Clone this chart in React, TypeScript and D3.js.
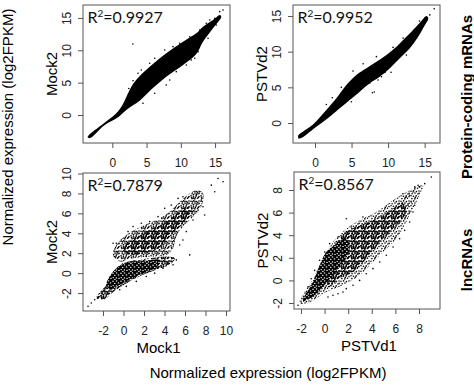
import React, { useEffect, useRef } from "react";
import * as d3 from "d3";

type Pt = [number, number];

const mockCodingX = [-4.28, 17.18];
const mockCodingY = [-4.33, 17.0];
const pstvdCodingX = [-3.01, 17.1];
const pstvdCodingY = [-2.8, 16.54];
const mockLncX = [-3.95, 10.39];
const mockLncY = [-3.8, 10.05];
const pstvdLncX = [-2.59, 9.78];
const pstvdLncY = [-2.53, 9.59];

const codingTicks = [0, 5, 10, 15];
const mockLncTicks = [-2, 0, 2, 4, 6, 8, 10];
const pstvdLncTicks = [-2, 0, 2, 4, 6, 8];

const r2Labels = ["0.9927", "0.9952", "0.7879", "0.8567"];

// Mock1 vs Mock2, protein-coding: outline of the dense band + stray points
const mockCodingUpper: Pt[] = [[-3.55, -3.35], [-1.36, -1.4], [0.58, 0.26], [1.56, 1.7], [2.29, 3.35], [3.02, 4.79], [4.0, 6.03], [5.46, 7.47], [7.88, 9.54], [10.32, 11.33], [12.26, 12.63], [13.24, 13.65], [14.7, 14.68], [15.68, 15.46]];
const mockCodingLower: Pt[] = [[-3.3, -3.6], [-1.1, -1.55], [0.83, -0.36], [2.04, 0.77], [3.02, 1.5], [4.0, 2.21], [5.46, 3.71], [7.88, 5.92], [10.32, 7.73], [12.26, 9.43], [13.24, 11.33], [14.7, 13.4], [15.9, 15.2]];
const mockCodingPoints: Pt[] = [[3.0, 10.97], [11.53, 8.5], [10.32, 7.99], [9.84, 7.73], [12.03, 8.76], [15.68, 15.97], [16.16, 16.23], [14.95, 14.94], [14.22, 14.68], [2.4, 4.1], [3.02, 5.3], [3.75, 6.44], [4.23, 6.96], [5.46, 8.0], [6.19, 8.76], [7.65, 10.05], [8.86, 10.56], [9.84, 11.08], [11.3, 12.1], [12.76, 13.14], [13.72, 14.17], [4.48, 1.81], [6.19, 3.35], [7.88, 4.64], [8.38, 5.41], [9.34, 6.7], [10.8, 7.73], [12.51, 9.79], [13.97, 11.85], [15.18, 13.91], [-3.5, -3.4], [-3.0, -2.9], [-2.5, -2.4]];

// PSTVd1 vs PSTVd2, protein-coding
const pstvdCodingUpper: Pt[] = [[-2.33, -1.82], [-0.27, -0.2], [1.55, 1.82], [2.92, 3.46], [4.29, 5.33], [5.66, 6.73], [7.03, 7.67], [8.4, 8.6], [9.77, 9.54], [11.14, 10.7], [12.5, 12.1], [13.2, 12.8], [14.3, 14.0], [15.25, 15.0]];
const pstvdCodingLower: Pt[] = [[-2.1, -2.15], [0.18, -0.51], [2.01, 0.89], [3.38, 2.06], [4.75, 3.23], [6.12, 4.39], [7.49, 5.57], [8.86, 6.49], [10.23, 7.67], [11.6, 9.07], [12.97, 10.47], [14.0, 11.9], [14.9, 13.5], [15.5, 14.7]];
const pstvdCodingPoints: Pt[] = [[7.85, 4.25], [8.63, 6.03], [9.09, 6.49], [9.5, 7.1], [10.4, 7.1], [10.2, 7.8], [7.5, 5.6], [4.98, 2.99], [2.37, 3.55], [15.7, 15.15], [16.3, 16.0], [14.3, 14.3], [15.03, 14.68], [1.55, 2.6], [3.6, 5.0], [5.2, 7.3], [6.58, 8.3], [8.4, 9.3], [10.68, 10.6], [12.05, 11.9], [12.5, 9.54], [13.88, 11.88], [8.1, 4.35], [9.6, 7.15], [-2.2, -2.1], [-1.8, -1.7]];

// Mock1 vs Mock2, lncRNAs: two lobes, their dense cores and the sparse points
const mockLncUpperLobe: Pt[] = [[-1.02, 1.83], [-0.7, 2.83], [0.28, 3.83], [1.74, 4.67], [3.2, 5.33], [4.5, 6.17], [5.48, 7.17], [6.46, 8.0], [7.27, 8.33], [7.76, 8.0], [7.59, 6.67], [6.78, 5.67], [5.8, 4.67], [5.15, 3.67], [4.83, 2.5], [4.18, 1.83], [2.56, 1.67], [0.93, 1.5], [-0.37, 1.17]];
const mockLncLowerFan: Pt[] = [[-2.65, -2.5], [-1.67, -1.17], [-1.02, 0], [-0.37, 0.83], [0.93, 1.27], [2.56, 1.5], [4.18, 1.67], [5.0, 1.5], [4.5, 0.83], [3.2, 0.33], [1.9, -0.17], [0.6, -0.83], [-0.7, -1.67], [-2.0, -2.67]];
const mockLncFanCore: Pt[] = [[-1.67, -1.17], [-0.86, 0.33], [0.28, 1.0], [1.9, 1.17], [3.53, 1.33], [3.2, 0.5], [1.58, -0.17], [-0.05, -1.0], [-1.35, -1.67]];
const mockLncLobeCore: Pt[] = [[-0.05, 2.5], [1.25, 3.67], [3.2, 4.67], [4.83, 5.67], [6.13, 6.67], [6.78, 6.33], [5.8, 5.0], [4.5, 3.67], [3.53, 2.5], [1.9, 2.0], [0.6, 1.83]];
const mockLncPoints: Pt[] = [[9.22, 9.5], [9.71, 9.17], [8.57, 8.83], [8.9, 8.17], [7.43, 8.17], [7.1, 7.83], [6.78, 7.5], [7.59, 7.33], [7.76, 6.67], [7.27, 6.33], [7.92, 5.83], [6.78, 5.33], [6.46, 1.83], [5.8, 3.33], [5.48, 2.83], [6.13, 4.17], [-1.02, 3.0], [-0.7, 3.0], [-0.86, 1.67], [-0.54, 2.17], [-0.21, 3.33], [0.44, 4.17], [0.93, 4.67], [1.74, 5.0], [2.56, 5.17], [3.37, 5.67], [4.02, 6.5], [4.66, 6.83], [5.32, 7.5], [5.8, 7.67], [-3.46, -3.33], [-3.14, -3.0], [-2.81, -2.67], [-2.49, -2.4], [-2.17, -2.0], [-1.93, -1.73], [-1.67, -1.5], [-1.35, -1.33], [-0.37, -1.67], [0.28, -1.33], [1.25, -0.83], [2.23, -0.33], [3.04, 0], [3.85, 0.5], [4.34, 1.0], [5.15, 1.33], [4.83, 0.83], [3.53, 2.33], [2.23, 1.67]];

// PSTVd1 vs PSTVd2, lncRNAs
const pstvdLncOuter: Pt[] = [[-2.11, -1.91], [-0.98, 0.15], [-0.14, 1.92], [0.71, 3.4], [1.84, 4.58], [2.97, 5.32], [4.38, 6.05], [5.8, 7.09], [7.21, 7.97], [8.34, 8.42], [8.06, 7.53], [7.49, 6.35], [6.92, 5.17], [6.08, 3.69], [4.95, 2.51], [4.1, 1.63], [2.97, 0.45], [1.56, -0.43], [0.14, -1.03], [-1.55, -2.06]];
const pstvdLncMid: Pt[] = [[0.99, 3.25], [1.84, 4.3], [2.97, 4.88], [4.38, 5.46], [5.8, 6.35], [6.64, 6.94], [6.92, 6.05], [5.8, 4.58], [4.67, 3.4], [3.53, 1.92], [2.41, 0.74], [1.28, 0.2], [0.3, -0.6]];
const pstvdLncCore: Pt[] = [[-1.83, -1.76], [-0.98, -0.14], [-0.42, 1.34], [0.14, 2.51], [0.99, 3.25], [1.84, 3.69], [2.13, 2.81], [1.56, 1.63], [0.71, 0.45], [-0.14, -0.58], [-0.98, -1.47]];
const pstvdLncPoints: Pt[] = [[9.04, 9.15], [8.48, 8.56], [8.06, 8.27], [7.64, 8.27], [7.92, 8.42], [7.21, 7.53], [7.49, 7.82], [6.92, 7.38], [6.64, 7.67], [7.35, 6.94], [7.64, 6.65], [7.07, 6.65], [7.21, 6.05], [7.49, 6.05], [6.79, 5.76], [6.36, 5.17], [1.84, 5.46], [3.25, 5.61], [2.26, 4.73], [1.14, 3.84], [0.43, 3.25], [0.01, 2.51], [-0.42, 1.78], [-0.84, 0.89], [-1.13, 0.15], [-1.41, -0.58], [-2.25, -2.2], [-1.97, -2.0], [-1.69, -1.76], [-1.41, -1.56], [-1.13, -1.38], [0.29, -1.47], [0.71, -1.32], [1.14, -1.18], [1.56, -1.03], [1.84, -0.73], [2.41, -0.43], [2.97, 0], [3.53, 0.59], [4.1, 1.04], [4.67, 1.63], [5.23, 2.22], [5.8, 2.96], [6.36, 3.69], [6.79, 4.43], [7.21, 5.17]];

const panels = [
  {
    frame: { left: 83, right: 230, top: 5, bottom: 143 },
    xDomain: mockCodingX, yDomain: mockCodingY, ticks: codingTicks,
    xTitle: null, yTitle: "Mock2", r2: r2Labels[0],
    regions: [{ ring: [...mockCodingUpper, ...mockCodingLower.slice().reverse()], fill: "#000" }],
    points: mockCodingPoints,
  },
  {
    frame: { left: 293, right: 440, top: 5, bottom: 143 },
    xDomain: pstvdCodingX, yDomain: pstvdCodingY, ticks: codingTicks,
    xTitle: null, yTitle: "PSTVd2", r2: r2Labels[1],
    regions: [{ ring: [...pstvdCodingUpper, ...pstvdCodingLower.slice().reverse()], fill: "#000" }],
    points: pstvdCodingPoints,
  },
  {
    frame: { left: 83, right: 230, top: 173, bottom: 311 },
    xDomain: mockLncX, yDomain: mockLncY, ticks: mockLncTicks,
    xTitle: "Mock1", yTitle: "Mock2", r2: r2Labels[2],
    regions: [
      { ring: mockLncUpperLobe, fill: "url(#dots-mid)" },
      { ring: mockLncLowerFan, fill: "url(#dots-midplus)" },
      { ring: mockLncLobeCore, fill: "url(#dots-midplus)" },
      { ring: mockLncFanCore, fill: "url(#dots-heavy)" },
    ],
    points: mockLncPoints,
  },
  {
    frame: { left: 294, right: 440, top: 172, bottom: 309 },
    xDomain: pstvdLncX, yDomain: pstvdLncY, ticks: pstvdLncTicks,
    xTitle: "PSTVd1", yTitle: "PSTVd2", r2: r2Labels[3],
    regions: [
      { ring: pstvdLncOuter, fill: "url(#dots-light)" },
      { ring: pstvdLncMid, fill: "url(#dots-midplus)" },
      { ring: pstvdLncCore, fill: "url(#dots-heavy)" },
    ],
    points: pstvdLncPoints,
  },
];

const AXIS_FONT = "'Liberation Sans', Arial, sans-serif";
const R2_FONT = "Lato, 'Noto Sans', sans-serif";

// speckle tiles used to shade the sparser lncRNA clouds (style only)
const lightDots = [[1.0, 1.2], [3.6, 0.9], [6.4, 1.6], [9.0, 1.0], [2.1, 3.7], [5.0, 3.1], [7.9, 4.0], [1.0, 5.8], [3.4, 6.2], [6.2, 5.9], [9.0, 6.6], [1.9, 8.6], [4.8, 8.9], [7.5, 8.2], [9.1, 3.4], [5.3, 7.4]];
const midExtra = [[2.4, 1.9], [4.9, 1.2], [7.6, 2.2], [3.6, 4.6], [6.4, 4.1], [1.5, 7.2], [8.3, 7.5], [3.3, 8.0]];
const heavySpecks = [[1.0, 1.3], [4.6, 0.9], [2.8, 3.4], [6.5, 2.9], [1.2, 5.6], [4.4, 5.9], [7.0, 6.4], [2.9, 7.4]];

const speckles = [
  { id: "dots-light", size: 10, r: 0.78, ink: "#000", base: null, dots: lightDots },
  { id: "dots-mid", size: 10, r: 0.82, ink: "#000", base: null, dots: [...lightDots, ...midExtra] },
  { id: "dots-midplus", size: 10, r: 0.95, ink: "#000", base: null, dots: [...lightDots, ...midExtra] },
  { id: "dots-heavy", size: 8, r: 0.72, ink: "#fff", base: "#000", dots: heavySpecks },
];

const App = () => {
  const svgRef = useRef<SVGSVGElement>(null);

  useEffect(() => {
    const svg = d3.select(svgRef.current);
    svg.selectAll("*").remove();

    const defs = svg.append("defs");
    speckles.forEach((s) => {
      const pat = defs.append("pattern")
        .attr("id", s.id)
        .attr("patternUnits", "userSpaceOnUse")
        .attr("width", s.size)
        .attr("height", s.size);
      if (s.base) pat.append("rect").attr("width", s.size).attr("height", s.size).attr("fill", s.base);
      s.dots.forEach(([cx, cy]) =>
        pat.append("circle").attr("cx", cx).attr("cy", cy).attr("r", s.r).attr("fill", s.ink)
      );
    });

    const fmt = (d: any) => String(d);

    panels.forEach((p, i) => {
      const { left, right, top, bottom } = p.frame;
      const x = d3.scaleLinear().domain(p.xDomain).range([left, right]);
      const y = d3.scaleLinear().domain(p.yDomain).range([bottom, top]);

      defs.append("clipPath").attr("id", `clip${i}`)
        .append("rect").attr("x", left).attr("y", top).attr("width", right - left).attr("height", bottom - top);

      const g = svg.append("g");
      const plot = g.append("g").attr("clip-path", `url(#clip${i})`);

      const ring = d3.line<Pt>()
        .x((d) => x(d[0]))
        .y((d) => y(d[1]))
        .curve(d3.curveCatmullRomClosed.alpha(0.5));

      p.regions.forEach((r) => {
        plot.append("path").attr("d", ring(r.ring)).attr("fill", r.fill);
      });

      plot.selectAll("circle")
        .data(p.points)
        .join("circle")
        .attr("cx", (d) => x(d[0]))
        .attr("cy", (d) => y(d[1]))
        .attr("r", 0.8)
        .attr("fill", "#000");

      // box
      g.append("rect")
        .attr("x", left).attr("y", top)
        .attr("width", right - left).attr("height", bottom - top)
        .attr("fill", "none").attr("stroke", "#555").attr("stroke-width", 1);

      // x axis
      g.append("g")
        .attr("transform", `translate(0,${bottom})`)
        .call(d3.axisBottom(x).tickValues(p.ticks).tickSize(5).tickPadding(10.5).tickFormat(fmt))
        .call((a) => a.select(".domain").remove())
        .call((a) => a.selectAll(".tick line").attr("stroke", "#555"))
        .call((a) => a.selectAll(".tick text").attr("fill", "#222"))
        .attr("font-family", AXIS_FONT)
        .attr("font-size", 12);

      // y axis, labels turned like R's default
      g.append("g")
        .attr("transform", `translate(${left},0)`)
        .call(d3.axisLeft(y).tickValues(p.ticks).tickSize(5).tickFormat(fmt))
        .call((a) => a.select(".domain").remove())
        .call((a) => a.selectAll(".tick line").attr("stroke", "#555"))
        .call((a) =>
          a.selectAll(".tick text")
            .attr("x", 0)
            .attr("y", -12.2)
            .attr("dy", null)
            .attr("text-anchor", "middle")
            .attr("transform", "rotate(-90)")
            .attr("fill", "#222")
        )
        .attr("font-family", AXIS_FONT)
        .attr("font-size", 12);

      // axis titles
      g.append("text")
        .attr("transform", `translate(${left - 25.6},${(top + bottom) / 2}) rotate(-90)`)
        .attr("text-anchor", "middle")
        .attr("font-family", AXIS_FONT)
        .attr("font-size", 15)
        .text(p.yTitle);

      if (p.xTitle) {
        g.append("text")
          .attr("x", (left + right) / 2 + 2)
          .attr("y", bottom + 42.4)
          .attr("text-anchor", "middle")
          .attr("font-family", AXIS_FONT)
          .attr("font-size", 15)
          .text(p.xTitle);
      }

      // R² annotation
      const t = g.append("text")
        .attr("x", left + 4.5)
        .attr("y", top + 17.5)
        .attr("font-family", R2_FONT)
        .attr("font-size", 16)
        .attr("fill", "#111");
      t.append("tspan").text("R");
      t.append("tspan").attr("dy", -6).attr("font-size", 10).text("2");
      t.append("tspan").attr("dy", 6).text(`=${p.r2}`);
    });

    // shared labels
    svg.append("text")
      .attr("transform", "translate(12.7,127) rotate(-90)")
      .attr("text-anchor", "middle")
      .attr("font-family", AXIS_FONT)
      .attr("font-size", 15)
      .text("Normalized expression (log2FPKM)");

    svg.append("text")
      .attr("x", 268)
      .attr("y", 378.4)
      .attr("text-anchor", "middle")
      .attr("font-family", AXIS_FONT)
      .attr("font-size", 15)
      .text("Normalized expression (log2FPKM)");

    svg.append("text")
      .attr("transform", "translate(472,97) rotate(-90)")
      .attr("text-anchor", "middle")
      .attr("font-family", AXIS_FONT)
      .attr("font-size", 15)
      .attr("font-weight", "bold")
      .text("Protein-coding mRNAs");

    svg.append("text")
      .attr("transform", "translate(472,260) rotate(-90)")
      .attr("text-anchor", "middle")
      .attr("font-family", AXIS_FONT)
      .attr("font-size", 15)
      .attr("font-weight", "bold")
      .text("lncRNAs");
  }, []);

  return (
    <svg
      ref={svgRef}
      width={474}
      height={386}
      style={{ position: "absolute", left: 0, top: 0, background: "#fff" }}
    ></svg>
  );
};

export default App;
